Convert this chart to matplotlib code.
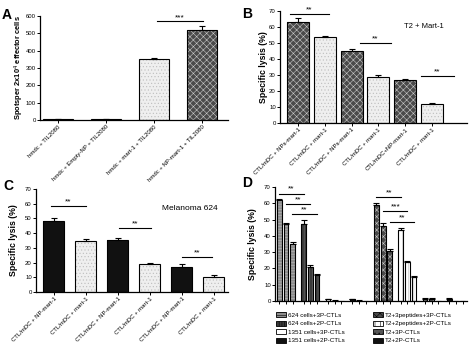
import numpy as np
import matplotlib.pyplot as plt
from matplotlib.patches import Patch

plt.rcParams['font.family'] = ['Liberation Sans', 'DejaVu Sans']
plt.rcParams['hatch.linewidth'] = 0.4

# ---- data ----
a_labels = ['hmdc + TIL2080', 'hmdc + Empty-NP + TIL2080',
            'hmdc + mart-1 + TIL2080', 'hmdc + NP-mart-1 + TIL2080']
a_vals = [5, 5, 350, 520]
a_err = [1, 1, 10, 25]

b_labels = ['CTL/mDC + NPs-mart-1', 'CTL/mDC + mart-1', 'CTL/mDC + NPs-mart-1',
            'CTL/mDC + mart-1', 'CTL/mDC+NP-mart-1', 'CTL/mDC + mart-1']
b_vals = [63, 53.5, 45, 28.5, 27, 11.7]
b_err = [2.5, 1, 1.5, 1.2, 0.5, 0.7]

c_labels = ['CTL/mDC + NP-mart-1', 'CTL/mDC + mart-1', 'CTL/mDC + NP-mart-1',
            'CTL/mDC + mart-1', 'CTL/mDC + NP-mart-1', 'CTL/mDC + mart-1']
c_vals = [48.5, 35, 35.5, 19, 17, 10]
c_err = [1.5, 1, 1, 0.8, 2, 1.5]

d_series = ['624 cells+3P-CTLs', '624 cells+2P-CTLs', '1351 cells+3P-CTLs',
            '1351 cells+2P-CTLs', 'T2+3peptides+3P-CTLs', 'T2+2peptides+2P-CTLs',
            'T2+3P-CTLs', 'T2+2P-CTLs']
d_vals = [[62, 47, 35], [47, 21, 16], [1, 0.3, 0], [1, 0.3, 0],
          [59, 46, 31], [43.5, 24, 14.5], [1.5, 1, 0], [1.5, 0, 0]]
d_err = [[0.7, 1, 1], [3, 1, 0.7], [0.5, 0.3, 0], [0.5, 0.3, 0],
         [1, 2, 1], [1.5, 0.5, 1], [0.5, 1, 0], [0.5, 0, 0]]

# styles: (face, hatch, hatch colour)
DARK = ('#4a4a4a', 'xxxxx', '#c8c8c8')
LIGHT = ('#efefef', '.....', '#bdbdbd')
BLACK = ('#111111', None, None)
d_styles = [('#8c8c8c', '------', '#c0c0c0'), ('#3a3a3a', '||||||', '#707070'),
            ('#ffffff', None, None), ('#111111', None, None),
            DARK, ('#ffffff', '|||', '#bbbbbb'),
            ('#555555', '....', '#aaaaaa'), ('#111111', None, None)]


def draw_bar(ax, x, h, err, style, width):
    face, hatch, hcol = style
    ax.bar(x, h, width, color=face, edgecolor=hcol if hatch else face,
           hatch=hatch, linewidth=0, zorder=2)
    ax.bar(x, h, width, facecolor='none', edgecolor='black', linewidth=0.8, zorder=3)
    if err > 0:
        ax.errorbar(x, h, yerr=[[0], [err]], fmt='none', ecolor='black',
                    elinewidth=0.8, capsize=2, capthick=0.8, zorder=4)


def style_axes(ax, ylabel, ymax, step, lx, fs=6.3):
    for s in ['top', 'right']:
        ax.spines[s].set_visible(False)
    for s in ['left', 'bottom']:
        ax.spines[s].set_linewidth(0.9)
    ax.set_ylim(0, ymax)
    ax.set_yticks(np.arange(0, ymax + 1, step))
    ax.tick_params(axis='both', labelsize=4.3, length=2, width=0.7, pad=1)
    ax.set_ylabel(ylabel, fontsize=fs, fontweight='bold')
    ax.yaxis.set_label_coords(lx, 0.5)


def sig(ax, x0, x1, y, txt):
    ax.plot([x0, x1], [y, y], color='black', lw=0.8)
    ax.text((x0 + x1) / 2, y + 0.5, txt, ha='center', va='bottom', fontsize=6)


fig = plt.figure(figsize=(4.74, 3.47), dpi=100)
W, H = 474, 347


def add_ax(l, r, t, b):
    return fig.add_axes([l / W, 1 - b / H, (r - l) / W, (b - t) / H])


# ---- A ----
axA = add_ax(40, 228, 16, 120)
for i, (v, e) in enumerate(zip(a_vals, a_err)):
    st = [LIGHT, LIGHT, LIGHT, DARK][i]
    draw_bar(axA, i, v, e, st, 0.62)
axA.set_xlim(-0.38, 3.54)
style_axes(axA, 'Spotsper 2x10$^4$ effector cells', 600, 100, -0.072, fs=5.4)
axA.set_xticks(range(4))
axA.set_xticklabels(a_labels, rotation=45, ha='right', rotation_mode='anchor')
sig(axA, 2.06, 3.02, 570, '***')

# ---- B ----
axB = add_ax(280, 467, 11, 123)
for i, (v, e) in enumerate(zip(b_vals, b_err)):
    draw_bar(axB, i, v, e, DARK if i % 2 == 0 else LIGHT, 0.82)
axB.set_xlim(-0.67, 6.3)
style_axes(axB, 'Specific lysis (%)', 70, 10, -0.064)
axB.set_xticks(range(6))
axB.set_xticklabels(b_labels, rotation=45, ha='right', rotation_mode='anchor')
sig(axB, -0.3, 1.16, 68, '**')
sig(axB, 2.3, 3.47, 49.7, '**')
sig(axB, 4.6, 5.8, 29.3, '**')
axB.text(4.7, 60, 'T2 + Mart-1', fontsize=5.5, ha='center', va='center')

# ---- C ----
axC = add_ax(36, 228, 189, 292)
for i, (v, e) in enumerate(zip(c_vals, c_err)):
    draw_bar(axC, i, v, e, BLACK if i % 2 == 0 else LIGHT, 0.66)
axC.set_xlim(-0.56, 5.44)
style_axes(axC, 'Specific lysis (%)', 70, 10, -0.094)
axC.set_xticks(range(6))
axC.set_xticklabels(c_labels, rotation=45, ha='right', rotation_mode='anchor')
sig(axC, -0.1, 1.0, 58.6, '**')
sig(axC, 2.03, 3.03, 43.3, '**')
sig(axC, 4.0, 4.94, 23.9, '**')
axC.text(4.25, 57, 'Melanoma 624', fontsize=6, ha='center', va='center')

# ---- D ----
axD = add_ax(275, 467, 187, 301)
gstride = 3.65
pos = []
for g in range(8):
    for j in range(3):
        x = g * gstride + j
        pos.append(x)
        draw_bar(axD, x, d_vals[g][j], d_err[g][j], d_styles[g], 0.72)
axD.set_xlim(-0.65, 28.2)
style_axes(axD, 'Specific lysis (%)', 70, 10, -0.094)
axD.set_xticks(pos)
axD.set_xticklabels([])
sig(axD, 0, 3.65, 65.9, '**')
sig(axD, 1, 4.65, 59.5, '**')
sig(axD, 1.9, 5.65, 53.4, '**')
sig(axD, 14.6, 18.25, 64, '**')
sig(axD, 15.6, 19.25, 55.4, '***')
sig(axD, 16.6, 20.25, 48.5, '**')

handles = [Patch(facecolor=s[0], edgecolor='black', hatch=s[1], linewidth=0.6)
           for s in d_styles]
# column order: left column first four, right column last four
fig.legend(handles=handles, labels=d_series, ncol=2, loc='upper left',
           bbox_to_anchor=(276 / W, 1 - 312 / H), frameon=False, fontsize=4.5,
           handlelength=1.6, handleheight=0.9, labelspacing=0.45,
           columnspacing=4.6, handletextpad=0.3, borderaxespad=0, borderpad=0)

# panel letters
for lab, x, y in [('A', 2, 15), ('B', 242, 14), ('C', 3, 186), ('D', 242, 183)]:
    fig.text(x / W, 1 - y / H, lab, fontsize=10, fontweight='bold', va='center')

fig.savefig('out.png', dpi=100)
